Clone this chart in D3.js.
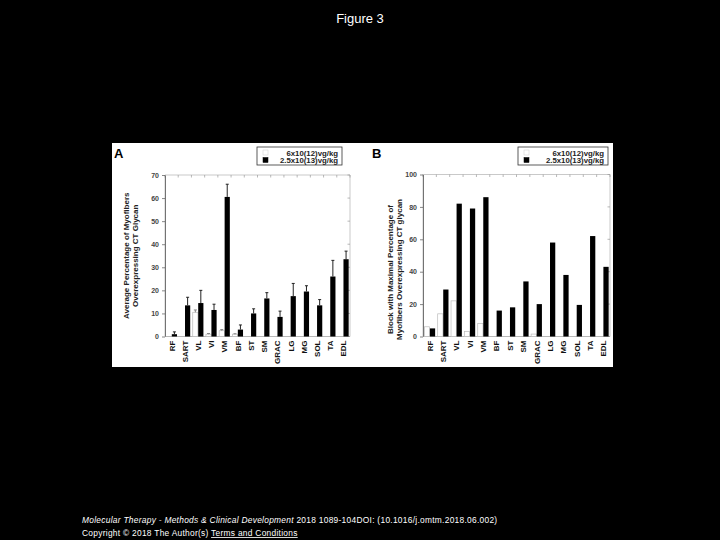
<!DOCTYPE html>
<html>
<head>
<meta charset="utf-8">
<script src="https://cdn.jsdelivr.net/npm/d3@7"></script>
<style>
  body { margin: 0; background: #000; }
  svg { display: block; font-family: "Liberation Sans", Arial, sans-serif; }
</style>
</head>
<body>
<svg id="fig" width="720" height="540"></svg>
<script>
// muscles on the x axis (same for both panels)
const muscles = ['RF', 'SART', 'VL', 'VI', 'VM', 'BF', 'ST', 'SM', 'GRAC', 'LG', 'MG', 'SOL', 'TA', 'EDL'];
const doses = ['6x10(12)vg/kg', '2.5x10(13)vg/kg'];

// panel A: average % of myofibers (mean, upper error bar end)
const avgLow = [0, 0, 10.5, 1, 2.5, 1, 0, 0, 0, 0, 0, 0, 0, 0];
const avgLowErr = [0, 0, 11.5, 1.3, 3, 1.2, 0, 0, 0, 0, 0, 0, 0, 0];
const avgHigh = [1, 13.5, 14.5, 11.5, 60.5, 3, 10, 16.5, 8.5, 17.5, 19.5, 13.5, 26, 33.5];
const avgHighErr = [2, 17, 20, 14, 66, 5, 12, 19, 11, 23, 22, 16, 33, 37];
const ticksA = [0, 10, 20, 30, 40, 50, 60, 70];

// panel B: block with maximal %
const maxLow = [6, 14, 22, 3, 8, 0, 0, 0, 1.5, 0, 0, 0, 0, 0];
const maxHigh = [5, 29, 82, 79, 86, 16, 18, 34, 20, 58, 38, 19.5, 62, 43];
const ticksB = [0, 20, 40, 60, 80, 100];

const svg = d3.select('#fig');

svg.append('text')
    .attr('x', 360).attr('y', 23)
    .attr('text-anchor', 'middle')
    .attr('fill', '#fff')
    .attr('font-size', '13px')
    .text('Figure 3');

// white figure panel
svg.append('rect')
    .attr('x', 112).attr('y', 143)
    .attr('width', 501).attr('height', 224)
    .attr('fill', '#fff');

function drawPanel(cfg) {
  const g = svg.append('g');

  const x = d3.scaleBand()
      .domain(muscles)
      .range([cfg.left, cfg.right])
      .paddingInner(0.15)
      .paddingOuter(0.08);

  const sub = d3.scaleBand()
      .domain([0, 1])
      .range([0, x.bandwidth()])
      .padding(0.05);

  const y = d3.scaleLinear()
      .domain([0, cfg.ymax])
      .range([cfg.bottom, cfg.top]);

  // frame: left axis dark, top/right light gray with little ticks
  g.append('path')
      .attr('d', `M${cfg.left},${cfg.bottom}V${cfg.top}H${cfg.right}V${cfg.bottom}`)
      .attr('fill', 'none')
      .attr('stroke', '#bbb')
      .attr('stroke-width', 0.8);

  const topTicks = d3.range(0, muscles.length + 1).map(i => cfg.left + i * (cfg.right - cfg.left) / muscles.length);
  g.selectAll('.tt')
      .data(topTicks)
      .join('line')
      .attr('x1', d => d).attr('x2', d => d)
      .attr('y1', cfg.top).attr('y2', cfg.top + 2.5)
      .attr('stroke', '#999').attr('stroke-width', 0.7);

  g.selectAll('.rt')
      .data(cfg.ticks)
      .join('line')
      .attr('x1', cfg.right).attr('x2', cfg.right - 2.5)
      .attr('y1', d => y(d)).attr('y2', d => y(d))
      .attr('stroke', '#999').attr('stroke-width', 0.7);

  const yAxis = d3.axisLeft(y)
      .tickValues(cfg.ticks)
      .tickSize(3)
      .tickPadding(3)
      .tickSizeOuter(0);

  const yg = g.append('g')
      .attr('transform', `translate(${cfg.left},0)`)
      .call(yAxis);
  yg.select('.domain').attr('stroke', '#555').attr('stroke-width', 0.8);
  yg.selectAll('.tick line').attr('stroke', '#555').attr('stroke-width', 0.7);
  yg.selectAll('.tick text')
      .attr('font-size', '7px')
      .attr('font-weight', 'bold')
      .attr('fill', '#444')
      .attr('font-family', 'Liberation Sans, Arial, sans-serif');

  // baseline with small ticks
  g.append('line')
      .attr('x1', cfg.left).attr('x2', cfg.right)
      .attr('y1', cfg.bottom).attr('y2', cfg.bottom)
      .attr('stroke', '#999').attr('stroke-width', 0.7);

  // low dose bars (white, gray outline)
  g.selectAll('.low')
      .data(cfg.low)
      .join('rect')
      .attr('x', (d, i) => x(muscles[i]) + sub(0))
      .attr('y', d => y(d))
      .attr('width', sub.bandwidth())
      .attr('height', d => cfg.bottom - y(d))
      .attr('fill', '#fff')
      .attr('stroke', '#bbb')
      .attr('stroke-width', 0.7);

  // high dose bars
  g.selectAll('.high')
      .data(cfg.high)
      .join('rect')
      .attr('x', (d, i) => x(muscles[i]) + sub(1))
      .attr('y', d => y(d))
      .attr('width', sub.bandwidth())
      .attr('height', d => cfg.bottom - y(d))
      .attr('fill', '#000');

  if (cfg.highErr) {
    const errs = [];
    cfg.highErr.forEach((e, i) => {
      if (e > cfg.high[i]) errs.push({i: i, v: cfg.high[i], e: e, s: 1, c: '#222'});
    });
    cfg.lowErr.forEach((e, i) => {
      if (e > cfg.low[i]) errs.push({i: i, v: cfg.low[i], e: e, s: 0, c: '#888'});
    });
    const eg = g.selectAll('.err')
        .data(errs)
        .join('g');
    eg.append('line')
        .attr('x1', d => x(muscles[d.i]) + sub(d.s) + sub.bandwidth() / 2)
        .attr('x2', d => x(muscles[d.i]) + sub(d.s) + sub.bandwidth() / 2)
        .attr('y1', d => y(d.v)).attr('y2', d => y(d.e))
        .attr('stroke', d => d.c).attr('stroke-width', 1);
    eg.append('line')
        .attr('x1', d => x(muscles[d.i]) + sub(d.s) + sub.bandwidth() / 2 - 1.5)
        .attr('x2', d => x(muscles[d.i]) + sub(d.s) + sub.bandwidth() / 2 + 1.5)
        .attr('y1', d => y(d.e)).attr('y2', d => y(d.e))
        .attr('stroke', d => d.c).attr('stroke-width', 1);
  }

  // x labels, rotated
  g.selectAll('.xl')
      .data(muscles)
      .join('text')
      .attr('transform', d => `translate(${x(d) + x.bandwidth() / 2 + 3},${cfg.bottom + 4}) rotate(-90)`)
      .attr('text-anchor', 'end')
      .attr('font-size', '8px')
      .attr('font-weight', 'bold')
      .attr('fill', '#111')
      .text(d => d);

  // y title, two lines
  const midY = (cfg.top + cfg.bottom) / 2 + cfg.titleShift;
  cfg.title.forEach((t, k) => {
    g.append('text')
        .attr('transform', `translate(${cfg.titleX + k * 8.5},${midY}) rotate(-90)`)
        .attr('text-anchor', 'middle')
        .attr('font-size', '8px')
        .attr('font-weight', 'bold')
        .attr('fill', '#222')
        .text(t);
  });

  // panel letter
  g.append('text')
      .attr('x', cfg.letterX).attr('y', 158)
      .attr('font-size', '13px')
      .attr('font-weight', 'bold')
      .text(cfg.letter);

  // legend
  const lg = g.append('g').attr('transform', `translate(${cfg.legendX},147)`);
  lg.append('rect')
      .attr('width', cfg.legendW).attr('height', 18)
      .attr('fill', '#fff').attr('stroke', '#333').attr('stroke-width', 0.8);
  doses.forEach((d, k) => {
    lg.append('rect')
        .attr('x', 6).attr('y', 3 + k * 7.5)
        .attr('width', 5).attr('height', 5)
        .attr('fill', k ? '#000' : '#fff')
        .attr('stroke', k ? '#000' : '#ccc')
        .attr('stroke-width', 0.5);
    lg.append('text')
        .attr('x', cfg.legendW - 4).attr('y', 8.5 + k * 7.5)
        .attr('text-anchor', 'end')
        .attr('font-size', '7.8px')
        .attr('font-weight', 'bold')
        .attr('fill', '#222')
        .text(d);
  });
}

drawPanel({
  letter: 'A', letterX: 114,
  left: 165, right: 350, top: 175, bottom: 336.5,
  ymax: 70, ticks: ticksA,
  low: avgLow, high: avgHigh, lowErr: avgLowErr, highErr: avgHighErr,
  title: ['Average Percentage of Myofibers', 'Overexpressing CT Glycan'],
  titleX: 129, titleShift: 0,
  legendX: 257, legendW: 85
});

drawPanel({
  letter: 'B', letterX: 372,
  left: 423, right: 610, top: 174.5, bottom: 336.5,
  ymax: 100, ticks: ticksB,
  low: maxLow, high: maxHigh,
  title: ['Block with Maximal Percentage of', 'Myofibers Overexpressing CT glycan'],
  titleX: 393, titleShift: 14,
  legendX: 518, legendW: 90
});

// footer
const foot = svg.append('g')
    .attr('font-size', '8.4px')
    .attr('letter-spacing', '0.28px')
    .attr('fill', '#fff');
const line1 = foot.append('text').attr('x', 82).attr('y', 523);
line1.append('tspan').attr('font-style', 'italic').text('Molecular Therapy - Methods & Clinical Development');
line1.append('tspan').text(' 2018 1089-104DOI: (10.1016/j.omtm.2018.06.002)');
const line2 = foot.append('text').attr('x', 82).attr('y', 536);
line2.append('tspan').text('Copyright © 2018 The Author(s) ');
line2.append('tspan').attr('text-decoration', 'underline').text('Terms and Conditions');
</script>
</body>
</html>
